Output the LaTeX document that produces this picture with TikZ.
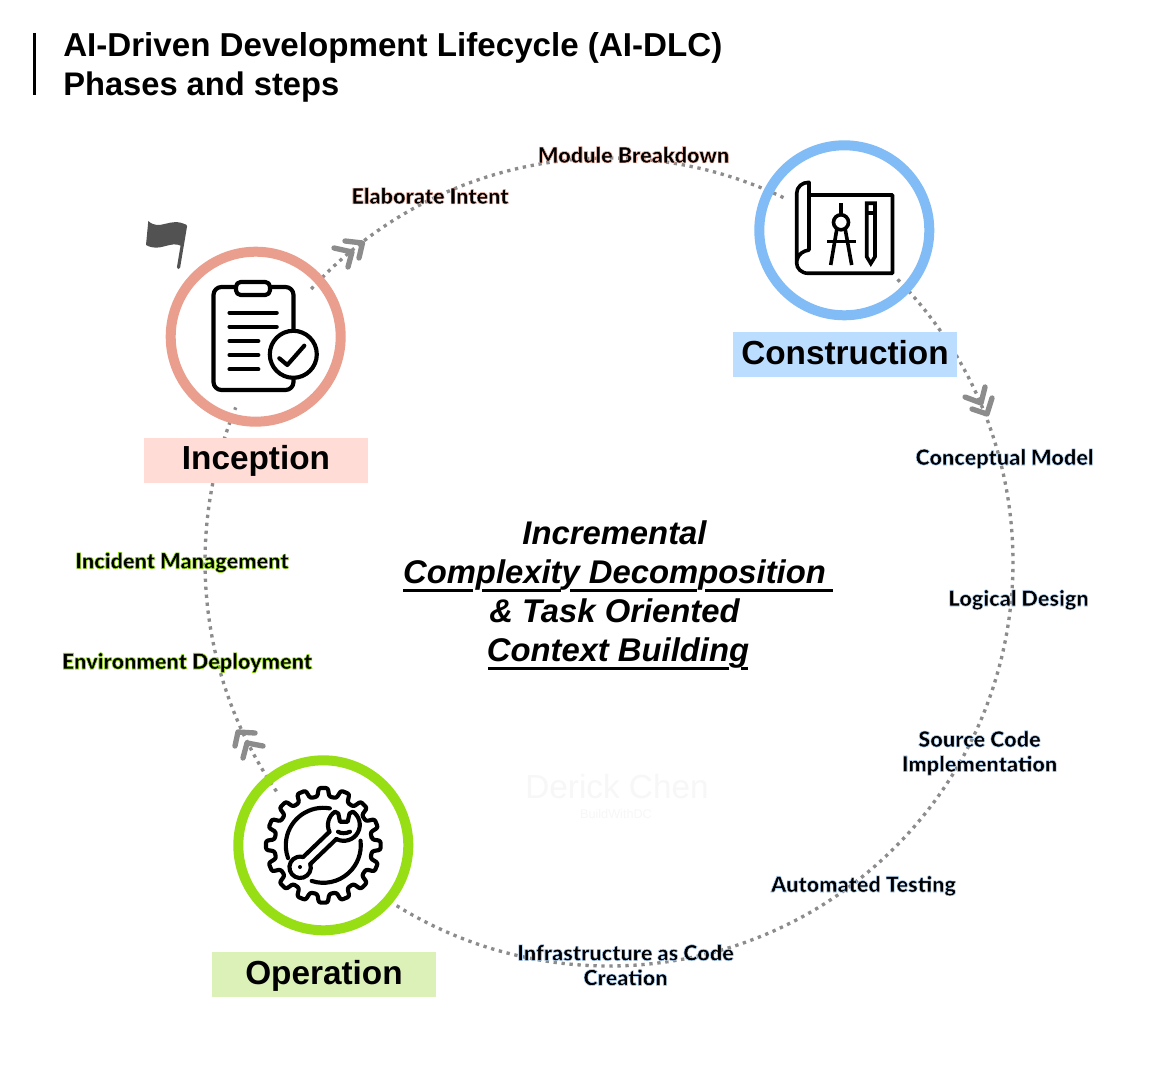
\documentclass[tikz,border=0pt]{standalone}
\usepackage{fontspec}
\setmainfont{Liberation Sans}
\newfontfamily\boldfam{Liberation Sans}[UprightFont=* Bold,ItalicFont=* Bold Italic]
\newfontfamily\glowgreen{Lato}[UprightFont=* Black,FakeBold=2.8]
\newfontfamily\glowsoft{Lato}[UprightFont=* Black,FakeBold=2.6]
\definecolor{incring}{HTML}{EA9F8E}
\definecolor{conring}{HTML}{82BCF6}
\definecolor{opring}{HTML}{97DF14}
\definecolor{incband}{HTML}{FFDCD6}
\definecolor{conband}{HTML}{BBDDFF}
\definecolor{opband}{HTML}{DCF1B8}
\definecolor{dotgrey}{HTML}{8C8C8C}
\definecolor{flaggrey}{HTML}{525252}
\definecolor{mark}{HTML}{F7F7F7}
\newcommand{\fs}[1]{\fontsize{#1}{#1}\selectfont}
\newcommand{\strokeRGB}[1]{\special{pdf:code #1 RG}}
\tikzset{
  x=0.75pt,y=-0.75pt,
  ring/.style={circle,line width=7.5pt,minimum size=127.5pt,inner sep=0pt},
  band/.style={rectangle,minimum width=168pt,minimum height=33.5pt,inner sep=0pt,text depth=0pt,font=\boldfam\fs{25}},
  dotline/.style={draw=dotgrey,line width=2.5pt,dash pattern=on 2.5pt off 3.5pt},
  chev/.style={draw=dotgrey,line width=4pt,line cap=round,line join=round},
  icon/.style={draw=black,line width=3.1pt,line cap=round,line join=round},
  iconthin/.style={draw=black,line width=2.7pt,line cap=butt,line join=miter},
  lblgreen/.style={align=center,inner sep=0pt,font=\glowgreen\fs{16.2}\strokeRGB{0.58 0.88 0.08}},
  lblpink/.style={align=center,inner sep=0pt,font=\glowsoft\fs{16.2}\strokeRGB{0.96 0.72 0.66}},
  lblblue/.style={align=center,inner sep=0pt,font=\glowsoft\fs{16.2}\strokeRGB{0.72 0.86 1}},
  centre/.style={inner sep=0pt,anchor=base,font=\boldfam\itshape\fs{24.6}},
  rule/.style={draw=black,line width=1.6pt},
}
\begin{document}
\begin{tikzpicture}
\useasboundingbox (0,0) rectangle (1153,1091);
\fill[white] (0,0) rectangle (1153,1091);
% title
\draw[black,line width=2.7pt] (34.5,33) -- (34.5,95);
\node[anchor=west,inner sep=0pt,font=\boldfam\fs{24.85}] (title1) at (63,48) {AI-Driven Development Lifecycle (AI-DLC)};
\node[anchor=west,inner sep=0pt,font=\boldfam\fs{24.5}] (title2) at (63,87) {Phases and steps};
% watermark
\node[inner sep=0pt,text=mark,font=\fs{25}] (wm1) at (617,787) {Derick Chen};
\node[inner sep=0pt,text=mark,font=\fs{9.5}] (wm2) at (616,814) {BuildWithDC};
% big circle
\coordinate (hub) at (609,562);
\coordinate (incOut) at ([shift={(-137.5:404)}]hub);
\coordinate (conOut) at ([shift={(-44.4:404)}]hub);
\coordinate (opOut) at ([shift={(145.4:404)}]hub);
\draw[dotline] (incOut) arc[start angle=-137.5,end angle=-64.3,radius=404];
\draw[dotline] (conOut) arc[start angle=-44.4,end angle=122,radius=404];
\draw[dotline] (opOut) arc[start angle=145.4,end angle=202.5,radius=404];
% chevrons
\draw[chev] (345,241) -- (362.5,243) -- (359,258);
\draw[chev] (334,248) -- (352,252) -- (348,267);
\draw[chev] (985,387) -- (981,403) -- (965,397);
\draw[chev] (992,398) -- (987,414) -- (972,409);
\draw[chev] (255,733) -- (238,732) -- (235,746);
\draw[chev] (263,746) -- (247,743) -- (243,758);
% rings
\node[ring,draw=incring] (inception) at (255.7,336.7) {};
\node[ring,draw=conring] (construction) at (844.3,230.3) {};
\node[ring,draw=opring] (operation) at (323.3,845.3) {};
% bands
\node[band,fill=incband,text height=13.2pt] (incband) at (256,460.5) {Inception};
\node[band,fill=conband,text height=15pt] (conband) at (845,354.3) {Construction};
\node[band,fill=opband,text height=15pt] (opband) at (324,974.3) {Operation};
% flag
\fill[flaggrey] (148.3,221) .. controls (160,232) and (170,216) .. (186.5,225) -- (181.7,246) .. controls (170,240) and (160,253) .. (146,245) -- cycle;
\draw[flaggrey,line width=2.4pt,line cap=round] (185.5,226) -- (178.5,267.5);
% clipboard
\draw[icon,rounded corners=6pt] (213.5,287) rectangle (293.5,390);
\draw[icon,fill=white,rounded corners=3.5pt] (236,282) rectangle (270,295);
\draw[icon] (229.5,312.7) -- (276.7,312.7);
\draw[icon] (229.5,326.7) -- (276.7,326.7);
\draw[icon] (229.5,341) -- (258.3,341);
\draw[icon] (229.5,355) -- (258.3,355);
\draw[icon] (229.5,369.3) -- (258.3,369.3);
\draw[icon,fill=white] (293.3,354.3) circle[radius=23.5];
\draw[icon] (279.3,358.3) -- (287.3,365) -- (304.3,345.7);
% blueprint
\draw[iconthin,line join=round] (811,195) -- (892.5,195) -- (892.5,273.3) -- (808.3,273.3) .. controls (801,273.3) and (796.7,268) .. (796.7,263.3) -- (796.7,193.3) .. controls (796.7,187) and (802,182.3) .. (809,182.3) -- (809,250) .. controls (803,251) and (798,254) .. (796.7,261);
\draw[iconthin] (841,203.3) -- (841,214.8);
\draw[iconthin] (841,222.3) circle[radius=7.5];
\draw[iconthin] (836.9,228.6) -- (830.7,265);
\draw[iconthin] (845.1,228.6) -- (851.7,265);
\draw[iconthin] (827.3,241.7) -- (855.7,241.7);
\draw[iconthin] (866.7,203.3) -- (875,203.3) -- (875,256.7) -- (870.8,263.5) -- (866.7,256.7) -- cycle;
\draw[iconthin] (866.7,213.3) -- (875,213.3);
% gear
\coordinate (gc) at (323.3,845.3);
\draw[icon,rounded corners=1.6pt] ([shift={(-7:49)}]gc)
  \foreach \a in {0,22.5,...,337.5} {
    -- ([shift={(\a-7:49)}]gc) -- ([shift={(\a-4.5:57.5)}]gc) -- ([shift={(\a+4.5:57.5)}]gc) -- ([shift={(\a+7:49)}]gc)
  } -- cycle;
\draw[icon] ([shift={(-80:37.5)}]gc) arc[start angle=-80,end angle=-200,radius=37.5];
\draw[icon] ([shift={(108:37.5)}]gc) arc[start angle=108,end angle=-7,radius=37.5];
% wrench
\coordinate (wt) at (300,867);
\coordinate (wh) at (343.7,825);
\draw[icon] (310.3,864) -- (336.4,839);
\draw[icon] (303.4,856.8) -- (329.4,831.8);
\draw[icon] (310.3,864) arc[start angle=-18,end angle=286,radius=10.7];
\draw[icon] (336.4,839) arc[start angle=117.5,end angle=-55.3,radius=16] -- (349.5,813.5) -- (347.7,821.7) -- (340,821.7) -- (338.3,813.5) -- (335,811.7) arc[start angle=236,end angle=154.6,radius=16];
\draw[icon] (338,831.7) .. controls (341,833.7) and (346,833.7) .. (350,831.7);
\fill[black] (wt) circle[radius=2];
% labels
\node[lblpink,anchor=base] (elab) at (430,203.8) {Elaborate Intent};
\node[lblpink,anchor=base] (modb) at (633.5,162.8) {Module Breakdown};
\node[lblblue,anchor=base] (concept) at (1004.5,465) {Conceptual Model};
\node[lblblue,anchor=base] (logical) at (1018.5,606) {Logical Design};
\node[lblblue] (source) at (979.5,753) {Source Code\\[2.4pt]Implementation};
\node[lblblue,anchor=base] (autom) at (863.5,892) {Automated Testing};
\node[lblblue] (infra) at (625.5,965) {Infrastructure as Code\\[2.4pt]Creation};
\node[lblgreen,anchor=base] (incident) at (182,568.6) {Incident Management};
\node[lblgreen,anchor=base] (envd) at (187,669) {Environment Deployment};
% centre text
\node[centre] (c1) at (614.5,544.5) {Incremental};
\node[centre] (c2) at (614.5,583) {Complexity Decomposition};
\node[centre] (c3) at (614.5,622) {\& Task Oriented};
\node[centre] (c4) at (618,661) {Context Building};
\draw[rule] (403,590.5) -- (473,590.5) (482,590.5) -- (561,590.5) (570,590.5) -- (697,590.5) (705,590.5) -- (833,590.5);
\draw[rule] (488,668.5) -- (729,668.5) (741,668.5) -- (748,668.5);
\end{tikzpicture}
\end{document}
